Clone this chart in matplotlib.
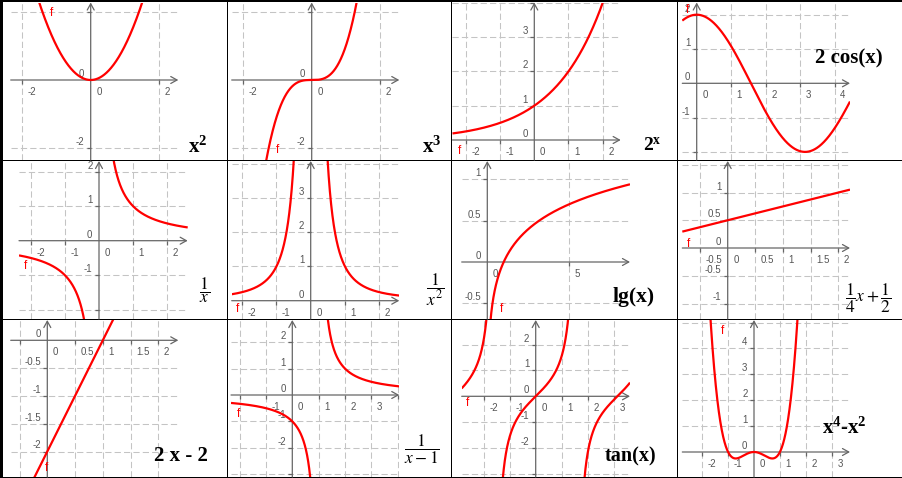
import numpy as np
import matplotlib.pyplot as plt
from matplotlib.patches import Rectangle
from matplotlib.transforms import offset_copy

plt.rcParams['mathtext.fontset'] = 'custom'
plt.rcParams['mathtext.rm'] = 'Liberation Serif'
plt.rcParams['mathtext.bf'] = 'Liberation Serif:bold'
plt.rcParams['mathtext.it'] = 'Liberation Serif:italic'

# ---- data: one entry per panel, row by row ----
funcs = [
    lambda x: x**2,
    lambda x: x**3,
    lambda x: 2.0**x,
    lambda x: 2 * np.cos(x),
    lambda x: 1 / x,
    lambda x: 1 / x**2,
    lambda x: np.log10(x),
    lambda x: x / 4 + 1 / 2,
    lambda x: 2 * x - 2,
    lambda x: 1 / (x - 1),
    lambda x: np.tan(x),
    lambda x: x**4 - x**2,
]
titles = [r'$\mathbf{x}^{\mathbf{2}}$', r'$\mathbf{x}^{\mathbf{3}}$',
          r'$\mathbf{2}^{\mathbf{x}}$', '2 cos(x)',
          r'$\dfrac{1}{x}$', r'$\dfrac{1}{x^{2}}$', 'lg(x)',
          r'$\dfrac{1}{4}x+\dfrac{1}{2}$',
          '2 x - 2', r'$\dfrac{1}{x-1}$', 'tan(x)',
          r'$\mathbf{x}^{\mathbf{4}}$-$\mathbf{x}^{\mathbf{2}}$']
x_grid = [[-2, 2], [-2, 2], [-2, -1, 1, 2], [1, 2, 3, 4],
          [-2, -1, 1, 2], [-2, -1, 1, 2], [5], [-0.5, 0.5, 1, 1.5, 2],
          [-0.5, 0.5, 1, 1.5, 2], [-2, -1, 1, 2, 3, 4], [-2, -1, 1, 2, 3], [-2, -1, 1, 2, 3]]
y_grid = [[-2, 2], [-2, 2], [1, 2, 3, 4], [-2, -1, 1, 2],
          [-2, -1, 1, 2], [1, 2, 3, 4], [-0.5, 0.5, 1], [-1, -0.5, 0.5, 1, 1.5],
          [-2, -1.5, -1, -0.5], [-3, -2, -1, 1, 2], [-3, -2, -1, 1, 2], [1, 2, 3, 4, 5]]
x_tick_labels = [[-2, 0, 2], [-2, 0, 2], [-2, -1, 0, 1, 2], [0, 1, 2, 3, 4],
                 [-2, -1, 0, 1, 2], [-2, -1, 0, 1, 2], [0, 5], [-0.5, 0, 0.5, 1, 1.5, 2],
                 [0, 0.5, 1, 1.5, 2], [-1, 0, 1, 2, 3], [-2, -1, 0, 1, 2, 3], [-2, -1, 0, 1, 2, 3]]
y_tick_labels = [[0, -2], [0, -2], [0, 1, 2, 3], [-1, 0, 1, 2],
                 [-1, 0, 1, 2], [0, 1, 2, 3], [-0.5, 0, 0.5, 1], [-1, -0.5, 0, 0.5, 1],
                 [0, -0.5, -1, -1.5, -2], [-2, -1, 0, 1, 2], [-2, -1, 0, 1, 2], [0, 1, 2, 3, 4]]

# ---- layout in pixels (origin x, origin y, px per unit x, px per unit y) ----
origins = [(90.7, 80, 34.2, 34.2), (311.7, 80, 34.2, 34.2), (534.3, 140, 34.2, 34.3), (696.7, 83.3, 34.5, 34.3),
           (99, 240.7, 34.2, 34.4), (310.7, 300.7, 34.25, 34.3), (487.3, 262, 16.4, 82.7), (727.7, 248, 55.4, 55.5),
           (47.3, 340.3, 55.5, 55.6), (292.3, 395, 26.35, 26.4), (535.7, 396.3, 26, 25.9), (754, 452, 25.9, 25.9)]
# graph box: left, right, top, bottom
boxes = [(10.7, 178.3, 2.5, 160), (231.7, 399.3, 2.5, 160), (452.5, 620.7, 2.5, 160), (682.3, 850, 2.5, 160),
         (19, 187.7, 161, 319), (231.7, 399.3, 161, 319), (461.7, 630, 161, 319), (682.3, 850, 161, 319),
         (10.7, 178.3, 320, 477), (231, 399.3, 320, 477), (461.7, 630, 320, 477), (682.3, 850, 320, 477)]
f_pos = [(51.7, 13.3), (278, 150), (459.3, 150.7), (688, 10), (26, 266.3), (237.7, 308.7),
         (501.7, 308.7), (688.3, 244), (46.7, 467.7), (238.3, 414.3), (467.3, 402.7), (722.7, 331)]
title_pos = [(188.5, 153, 'left', 'baseline'), (421.7, 153, 'left', 'baseline'),
             (643.3, 150.7, 'left', 'baseline'), (815, 63.5, 'left', 'baseline'),
             (205, 290.3, 'center', 'center'), (435, 290.3, 'center', 'center'),
             (613, 302, 'left', 'baseline'), (868, 298.5, 'center', 'center'),
             (154, 461, 'left', 'baseline'), (421.5, 449.3, 'center', 'center'),
             (605, 461.7, 'left', 'baseline'), (821.7, 434.3, 'left', 'baseline')]
title_size = [15, 15, 14, 15, 12.5, 12.5, 15.5, 12.5, 15, 12.5, 14.5, 15]

col_edges = [(2.5, 227), (228, 451), (452, 677), (678, 901.5)]
row_edges = [(2.5, 160), (161, 319), (320, 477)]

W, H = 903, 478
AX = '#666666'
LBL = '#555555'


def fx(px):
    return px / W


def fy(py):
    return 1 - py / H


fig = plt.figure(figsize=(W / 100, H / 100), dpi=100, facecolor='black')

for c0, c1 in col_edges:
    for r0, r1 in row_edges:
        fig.add_artist(Rectangle((fx(c0), fy(r1)), fx(c1) - fx(c0), fy(r0) - fy(r1),
                                 transform=fig.transFigure, facecolor='white',
                                 edgecolor='none', zorder=-5))

for i in range(12):
    ox, oy, sx, sy = origins[i]
    left, right, top, bottom = boxes[i]
    ax = fig.add_axes([fx(left), fy(bottom), (right - left) / W, (bottom - top) / H])
    x0, x1 = (left - ox) / sx, (right - ox) / sx
    y0, y1 = (oy - bottom) / sy, (oy - top) / sy
    ax.set_xlim(x0, x1)
    ax.set_ylim(y0, y1)
    ax.patch.set_visible(False)
    for s in ax.spines.values():
        s.set_visible(False)
    ax.set_xticks(x_grid[i])
    ax.set_yticks(y_grid[i])
    ax.tick_params(length=0, labelbottom=False, labelleft=False)
    ax.grid(True, color='#c4c4c4', lw=0.75, ls=(0, (6, 3)))
    ax.set_axisbelow(True)

    # axes with arrows
    arr = dict(arrowstyle='->,head_length=0.45,head_width=0.25', color=AX, lw=0.9,
               shrinkA=0, shrinkB=0)
    ax.annotate('', xy=(x1, 0), xytext=(x0, 0), arrowprops=arr)
    ax.annotate('', xy=(0, y1), xytext=(0, y0), arrowprops=arr)
    ax.plot(x_grid[i], np.zeros(len(x_grid[i])), ls='none', marker=3, ms=3,
            mew=0.9, color=AX, clip_on=False)
    ax.plot(np.zeros(len(y_grid[i])), y_grid[i], ls='none', marker=0, ms=3,
            mew=0.9, color=AX, clip_on=False)

    # tick labels next to the axes
    tx = offset_copy(ax.transData, fig=fig, x=5.5, y=-15, units='dots')
    for v in x_tick_labels[i]:
        ax.text(v, 0, '%g' % v, transform=tx, ha='left', va='baseline',
                fontsize=7, color=LBL, family='Liberation Sans')
    ty = offset_copy(ax.transData, fig=fig, x=-6.5, y=3, units='dots')
    for v in y_tick_labels[i]:
        ax.text(0, v, '%g' % v, transform=ty, ha='right', va='baseline',
                fontsize=7, color=LBL, family='Liberation Sans')

    # the function curve
    x = np.linspace(x0, x1, 3000)
    with np.errstate(all='ignore'):
        y = funcs[i](x)
    y[~np.isfinite(y)] = np.nan
    y[np.abs(y) > 40] = np.nan
    ax.plot(x, y, color='#ff0000', lw=1.6, zorder=3, solid_capstyle='butt')

    fig.text(fx(f_pos[i][0]), fy(f_pos[i][1]), 'f', color='#ff0000', fontsize=8.5,
             ha='center', va='center', family='Liberation Sans')

    px, py, ha, va = title_pos[i]
    if '\\dfrac' in titles[i]:
        fig.text(fx(px), fy(py), titles[i], ha=ha, va=va, fontsize=title_size[i],
                 color='black', math_fontfamily='stix')
    else:
        fig.text(fx(px), fy(py), titles[i], ha=ha, va=va, fontsize=title_size[i],
                 color='black', family='Liberation Serif', weight='bold',
                 math_fontfamily='custom')

fig.savefig('out.png', dpi=100, facecolor='black')
